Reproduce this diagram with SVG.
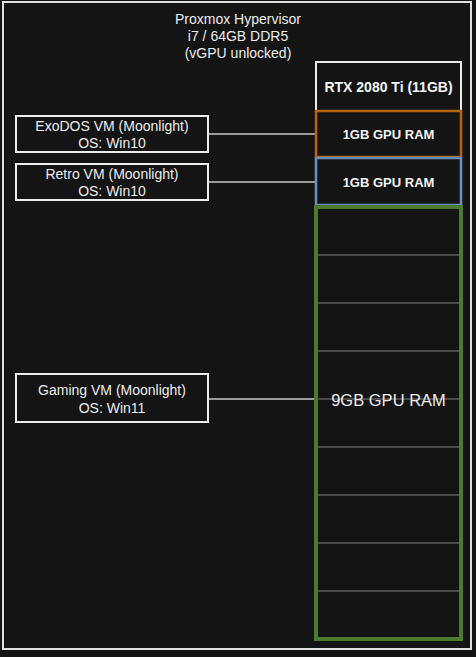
<svg xmlns="http://www.w3.org/2000/svg" width="476" height="657" viewBox="0 0 476 657">
<style>
text{font-family:"Liberation Sans",Arial,sans-serif;fill:#ececec;text-anchor:middle}
.t{font-size:14px}
.b{font-size:13px;font-weight:bold;fill:#f4f4f4}
.box{fill:#141414;stroke:#ececec;stroke-width:2}
.conn{stroke:#c8c8c8;stroke-width:1.5;fill:none}
.div{stroke:#4a4a4a;stroke-width:2}
</style>
<rect x="0" y="0" width="476" height="657" fill="#141414"/>
<g id="hypervisor">
<rect x="3" y="2" width="468" height="647" fill="#141414" stroke="#e0e0e0" stroke-width="2"/>
<text class="t" x="238" y="24">Proxmox Hypervisor</text>
<text class="t" x="238" y="41">i7 / 64GB DDR5</text>
<text class="t" x="238" y="58">(vGPU unlocked)</text>
</g>
<g id="connectors">
<line class="conn" x1="208" y1="134" x2="316" y2="134"/>
<line class="conn" x1="208" y1="182" x2="316" y2="182"/>
<line class="conn" x1="208" y1="399" x2="316" y2="399"/>
</g>
<g id="rtx">
<rect class="box" x="316" y="62" width="145" height="49"/>
<text class="b" x="388.5" y="92" style="font-size:14px">RTX 2080 Ti (11GB)</text>
</g>
<g id="ram-exodos">
<rect x="316" y="111" width="145" height="46" fill="#141414" stroke="#b46504" stroke-width="2.5"/>
<text class="b" x="388.5" y="139">1GB GPU RAM</text>
</g>
<g id="ram-retro">
<rect x="316" y="158" width="145" height="47" fill="#141414" stroke="#6c8ebf" stroke-width="2.5"/>
<text class="b" x="388.5" y="187">1GB GPU RAM</text>
</g>
<g id="ram-gaming">
<rect x="316" y="207" width="145" height="432" fill="#141414" stroke="#4a7a2e" stroke-width="4"/>
<g class="div">
<line x1="318" y1="255" x2="459" y2="255"/>
<line x1="318" y1="303" x2="459" y2="303"/>
<line x1="318" y1="351" x2="459" y2="351"/>
<line x1="318" y1="399" x2="459" y2="399"/>
<line x1="318" y1="447" x2="459" y2="447"/>
<line x1="318" y1="495" x2="459" y2="495"/>
<line x1="318" y1="543" x2="459" y2="543"/>
<line x1="318" y1="591" x2="459" y2="591"/>
</g>
<text x="388.5" y="406" style="font-size:16.5px">9GB GPU RAM</text>
</g>
<g id="vm-exodos">
<rect class="box" x="16" y="116" width="192" height="36"/>
<text class="t" x="112" y="131">ExoDOS VM (Moonlight)</text>
<text class="t" x="112" y="148">OS: Win10</text>
</g>
<g id="vm-retro">
<rect class="box" x="16" y="164" width="192" height="36"/>
<text class="t" x="112" y="179">Retro VM (Moonlight)</text>
<text class="t" x="112" y="196">OS: Win10</text>
</g>
<g id="vm-gaming">
<rect class="box" x="16" y="374" width="192" height="48"/>
<text class="t" x="112" y="395">Gaming VM (Moonlight)</text>
<text class="t" x="112" y="413">OS: Win11</text>
</g>
</svg>
